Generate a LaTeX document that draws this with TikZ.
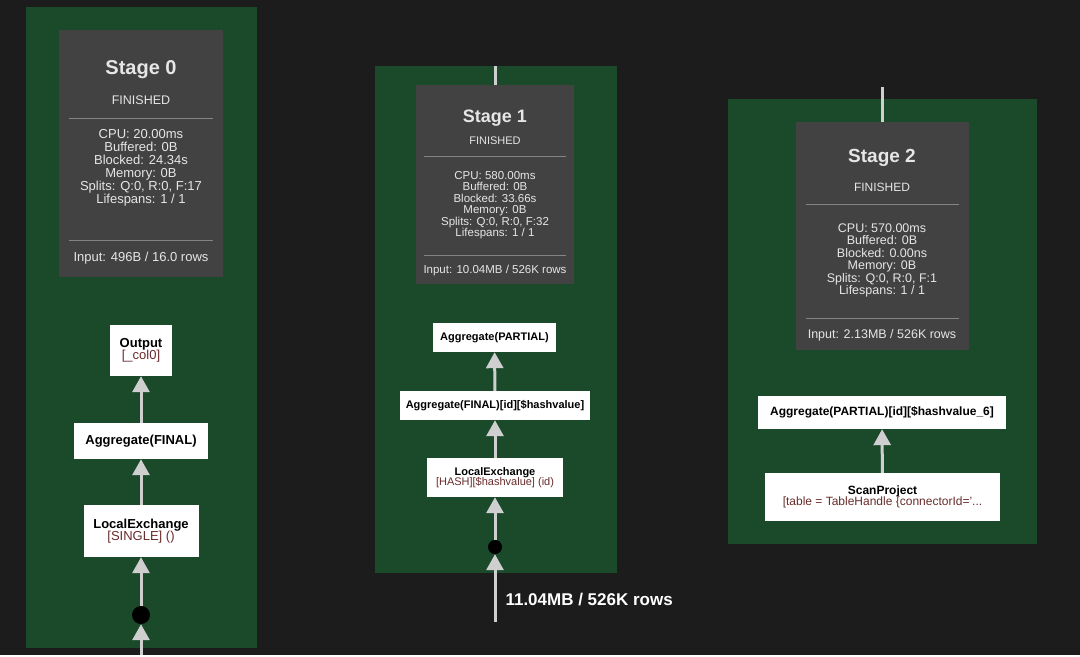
\documentclass[tikz,border=0pt]{standalone}
\usepackage{fontspec}
\setmainfont{Liberation Sans}
\usetikzlibrary{arrows.meta}
\definecolor{bgdark}{HTML}{1C1C1C}
\definecolor{stagegreen}{HTML}{1B4A2B}
\definecolor{infogray}{HTML}{424242}
\definecolor{infotext}{HTML}{E6E6E6}
\definecolor{flowgray}{HTML}{CFCFCF}
\definecolor{argred}{HTML}{6A2C2C}
\tikzset{
  stage/.style={fill=stagegreen, draw=none},
  infobox/.style={fill=infogray, draw=none},
  infoline/.style={draw=infotext!40!infogray, line width=.6pt},
  title/.style={text=infotext, font=\bfseries\fontsize{#1}{#1}\selectfont},
  stat/.style={text=infotext, font=\fontsize{#1}{#1}\selectfont, inner sep=0pt},
  plannode/.style={fill=white, draw=none, align=center, inner sep=0pt, font=\bfseries\fontsize{#1}{#1.4}\selectfont},
  flow/.style={draw=flowgray, line width=3pt, -{Triangle[width=17pt,length=16pt]}},
  plain/.style={draw=flowgray, line width=3pt},
  joint/.style={circle, fill=black, inner sep=0pt, minimum size=#1}
}
\newcommand{\argtext}[1]{\\[-1pt]{\mdseries\color{argred}#1}}
\begin{document}
\begin{tikzpicture}[x=1pt,y=-1pt]
  \fill[bgdark] (0,0) rectangle (1080,655);
  % stage 0
  \fill[stage] (26,7) rectangle (257,648);
  \fill[infobox] (59,30) rectangle (223,277);
  \node[title=20] (s0title) at (141,70) {Stage 0};
  \node[stat=12.5] (s0state) at (141,100) {FINISHED};
  \draw[infoline] (69,118) -- (213,118);
  \node[stat=13, align=center] (s0stats) at (141,168) {CPU: 20.00ms\\Buffered: 0B\\Blocked: 24.34s\\Memory: 0B\\Splits: Q:0, R:0, F:17\\Lifespans: 1 / 1};
  \draw[infoline] (69,240) -- (213,240);
  \node[stat=13] (s0input) at (141,258) {Input: 496B / 16.0 rows};
  \node[plannode=13, minimum width=62pt, minimum height=51pt] (out0) at (141,350.5) {Output\argtext{[\_col0]}};
  \node[plannode=13, minimum width=134pt, minimum height=36pt] (agg0) at (141,441) {Aggregate(FINAL)};
  \node[plannode=13, minimum width=115pt, minimum height=52pt] (lex0) at (141,531) {LocalExchange\argtext{[SINGLE] ()}};
  \node[joint=18pt] (dot0) at (141,615) {};
  \coordinate (in0) at (141,655);
  \draw[flow] (agg0) -- (out0);
  \draw[flow] (lex0) -- (agg0);
  \draw[flow] (dot0) -- (lex0);
  \draw[flow] (in0) -- (dot0);
  % stage 1
  \fill[stage] (375,66) rectangle (617,573);
  \fill[infobox] (416,85) rectangle (574,284);
  \coordinate (top1) at (495,66);
  \coordinate (box1) at (495,85);
  \draw[plain] (top1) -- (box1);
  \node[title=18] (s1title) at (495,118) {Stage 1};
  \node[stat=11] (s1state) at (495,141) {FINISHED};
  \draw[infoline] (424,156) -- (566,156);
  \node[stat=11.5, align=center] (s1stats) at (495,205) {CPU: 580.00ms\\Buffered: 0B\\Blocked: 33.66s\\Memory: 0B\\Splits: Q:0, R:0, F:32\\Lifespans: 1 / 1};
  \draw[infoline] (424,255) -- (566,255);
  \node[stat=11.5] (s1input) at (495,271) {Input: 10.04MB / 526K rows};
  \node[plannode=11, minimum width=123pt, minimum height=29pt] (agg1) at (494.5,337.5) {Aggregate(PARTIAL)};
  \node[plannode=11, minimum width=190pt, minimum height=29pt] (fin1) at (495,405.5) {Aggregate(FINAL)[id][\$hashvalue]};
  \node[plannode=11, minimum width=136pt, minimum height=39pt] (lex1) at (495,477.5) {LocalExchange\argtext{[HASH][\$hashvalue] (id)}};
  \node[joint=14pt] (dot1) at (495,547) {};
  \coordinate (in1) at (495,622);
  \draw[flow] (fin1) -- (agg1);
  \draw[flow] (lex1) -- (fin1);
  \draw[flow] (dot1) -- (lex1);
  \draw[flow] (in1) -- (dot1);
  \node[anchor=west, text=white, font=\bfseries\fontsize{17}{17}\selectfont] (rows1) at (502,600) {11.04MB / 526K rows};
  % stage 2
  \fill[stage] (728,99) rectangle (1037,544);
  \fill[infobox] (796,122) rectangle (969,350);
  \coordinate (top2) at (882,87);
  \coordinate (box2) at (882,122);
  \draw[plain] (top2) -- (box2);
  \node[title=19] (s2title) at (882,158) {Stage 2};
  \node[stat=12] (s2state) at (882,187) {FINISHED};
  \draw[infoline] (806,204) -- (959,204);
  \node[stat=12.5, align=center] (s2stats) at (882,260.5) {CPU: 570.00ms\\Buffered: 0B\\Blocked: 0.00ns\\Memory: 0B\\Splits: Q:0, R:0, F:1\\Lifespans: 1 / 1};
  \draw[infoline] (806,318) -- (959,318);
  \node[stat=12.5] (s2input) at (882,335) {Input: 2.13MB / 526K rows};
  \node[plannode=12, minimum width=248pt, minimum height=33pt] (agg2) at (882,412.5) {Aggregate(PARTIAL)[id][\$hashvalue\_6]};
  \node[plannode=12, minimum width=235pt, minimum height=48pt] (scan2) at (882.5,497) {ScanProject\argtext{[table = TableHandle \{connectorId='...}};
  \draw[flow] (scan2) -- (agg2);
\end{tikzpicture}
\end{document}
